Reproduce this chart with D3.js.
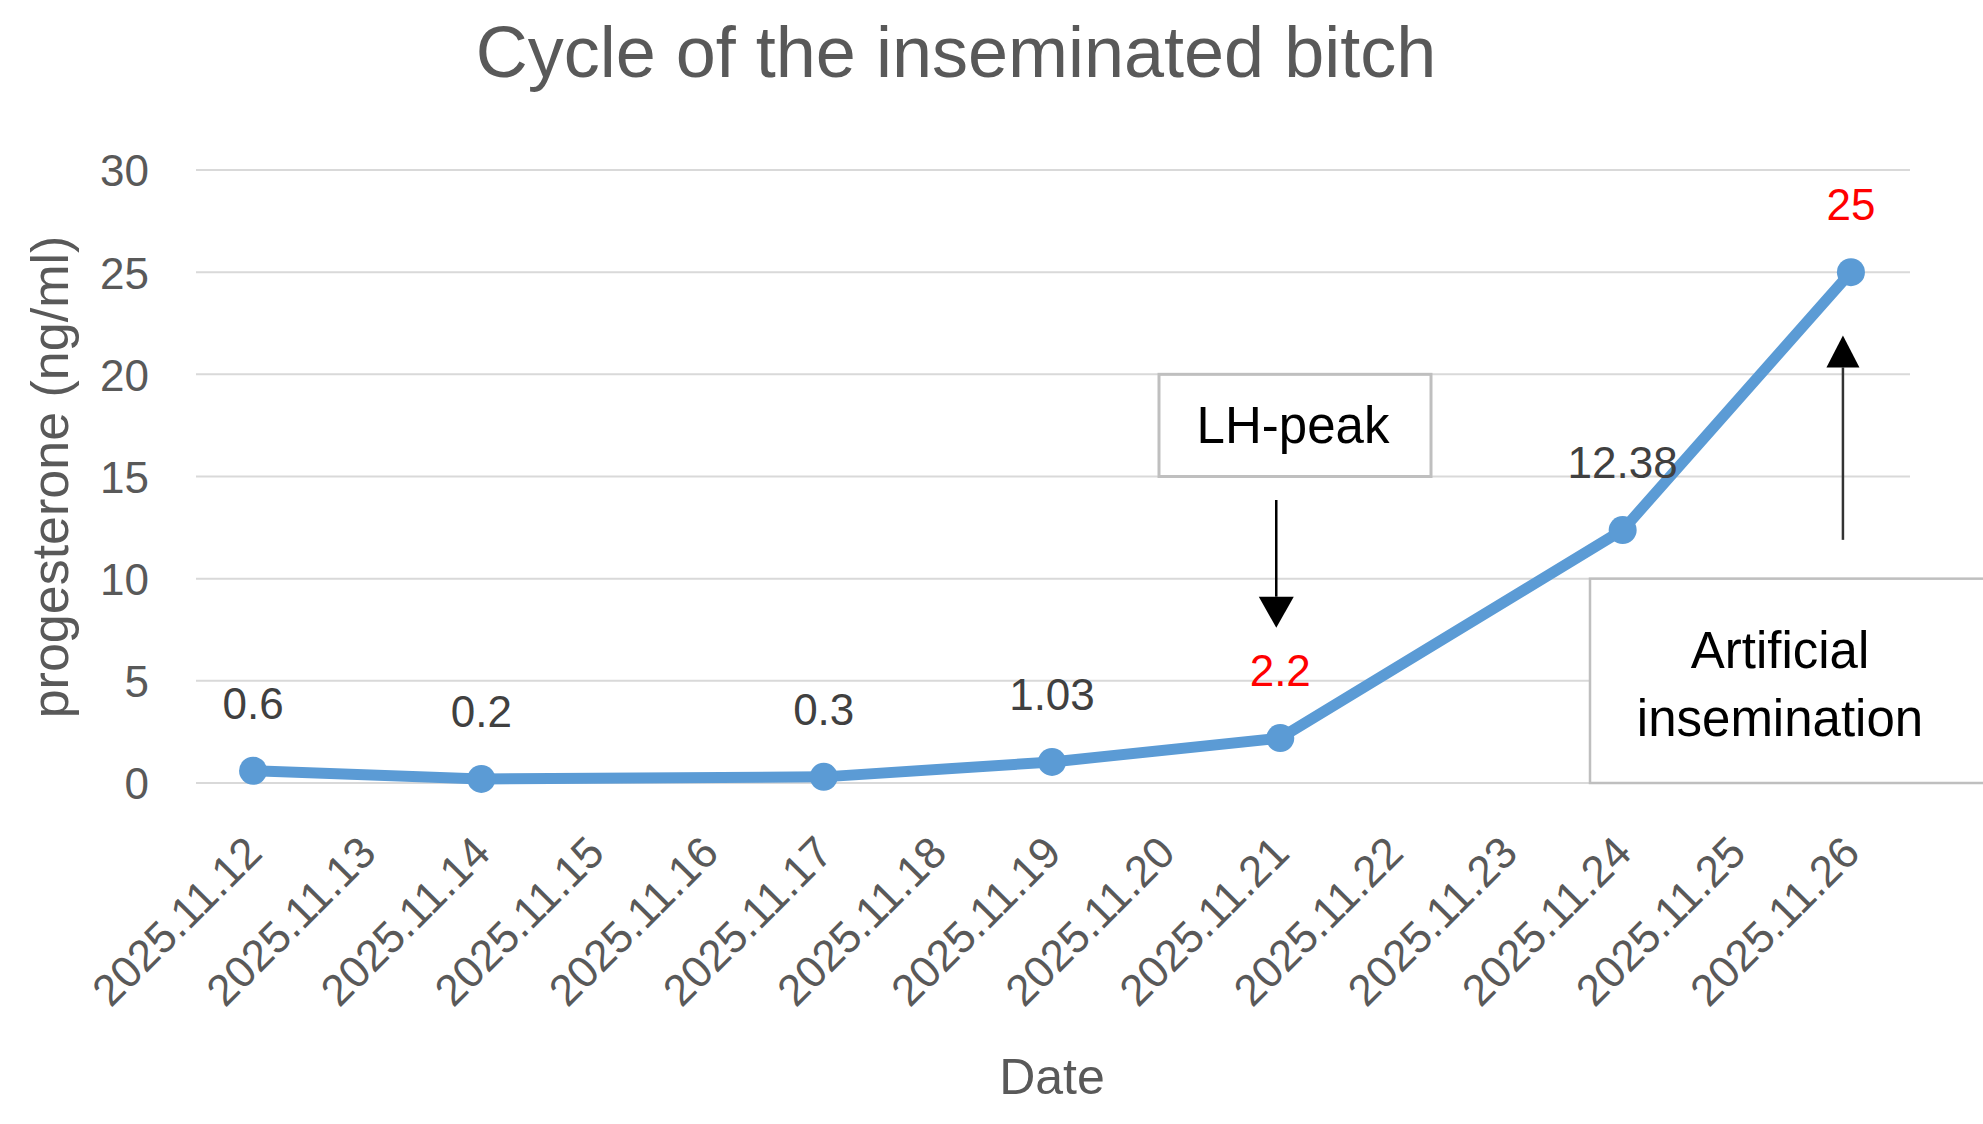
<!DOCTYPE html>
<html>
<head>
<meta charset="utf-8">
<script src="https://cdn.jsdelivr.net/npm/d3@7"></script>
<style>
  body { margin: 0; background: #fff; }
  text { font-family: "Liberation Sans", Arial, sans-serif; }
</style>
</head>
<body>
<div class="chart"></div>
<script>
// Data
var dates = ["2025.11.12", "2025.11.13", "2025.11.14", "2025.11.15", "2025.11.16",
             "2025.11.17", "2025.11.18", "2025.11.19", "2025.11.20", "2025.11.21",
             "2025.11.22", "2025.11.23", "2025.11.24", "2025.11.25", "2025.11.26"];
var measuredDates = ["2025.11.12", "2025.11.14", "2025.11.17", "2025.11.19",
                     "2025.11.21", "2025.11.24", "2025.11.26"];
var progesterone = [0.6, 0.2, 0.3, 1.03, 2.2, 12.38, 25];
var redLabels = ["2025.11.21", "2025.11.26"];
var yTicks = [0, 5, 10, 15, 20, 25, 30];

var svgWidth = 1983;
var svgHeight = 1124;

var svg = d3.select(".chart")
    .append("svg")
    .attr("width", svgWidth)
    .attr("height", svgHeight);

var points = measuredDates.map(function(d, i) {
    return { date: d, value: progesterone[i] };
});

// Scales
var xScale = d3.scaleBand()
    .domain(dates)
    .range([196, 1908]);
var xPos = function(d) { return xScale(d) + xScale.bandwidth() / 2; };

var yScale = d3.scaleLinear()
    .domain([0, 30])
    .range([783, 170]);

// Gridlines
svg.append("g")
    .selectAll("line")
    .data(yTicks)
    .enter()
    .append("line")
    .attr("x1", 196)
    .attr("x2", 1910)
    .attr("y1", d => yScale(d))
    .attr("y2", d => yScale(d))
    .attr("stroke", "#d9d9d9")
    .attr("stroke-width", 2);

// Y axis (labels only)
var leftAxis = d3.axisLeft(yScale).tickValues(yTicks).tickSize(0).tickPadding(0);
var yAxis = svg.append("g")
    .attr("transform", "translate(149, 0)")
    .call(leftAxis);
yAxis.select(".domain").remove();
yAxis.selectAll("text")
    .attr("fill", "#595959")
    .attr("font-size", 44)
    .attr("dy", "0.36em")
    .style("font-family", "'Liberation Sans', Arial, sans-serif");

// X axis labels (rotated)
var bottomAxis = d3.axisBottom(xScale).tickSize(0).tickPadding(0);
var xAxis = svg.append("g")
    .attr("transform", "translate(0, 844)")
    .call(bottomAxis);
xAxis.select(".domain").remove();
xAxis.selectAll("text")
    .attr("fill", "#595959")
    .attr("font-size", 44)
    .attr("text-anchor", "end")
    .attr("x", 0)
    .attr("y", 0)
    .attr("dy", "0.36em")
    .attr("transform", "rotate(-45)")
    .style("font-family", "'Liberation Sans', Arial, sans-serif");

// Annotation boxes
var aiBox = svg.append("g");
aiBox.append("rect")
    .attr("x", 1590)
    .attr("y", yScale(10))
    .attr("width", 420)
    .attr("height", yScale(0) - yScale(10))
    .attr("fill", "#fff")
    .attr("stroke", "#bfbfbf")
    .attr("stroke-width", 2.5);
aiBox.append("text")
    .attr("x", 1780)
    .attr("y", 668)
    .attr("text-anchor", "middle")
    .attr("font-size", 51)
    .attr("fill", "#000")
    .text("Artificial");
aiBox.append("text")
    .attr("x", 1780)
    .attr("y", 736)
    .attr("text-anchor", "middle")
    .attr("font-size", 51)
    .attr("fill", "#000")
    .text("insemination");

var lhBox = svg.append("g");
lhBox.append("rect")
    .attr("x", 1159)
    .attr("y", yScale(20))
    .attr("width", 272)
    .attr("height", yScale(15) - yScale(20))
    .attr("fill", "#fff")
    .attr("stroke", "#bfbfbf")
    .attr("stroke-width", 3);
lhBox.append("text")
    .attr("x", 1293)
    .attr("y", 443)
    .attr("text-anchor", "middle")
    .attr("font-size", 51)
    .attr("fill", "#000")
    .text("LH-peak");

// Arrows
function drawArrow(x, yFrom, yTo, color, headW, headH) {
    var dir = yTo > yFrom ? 1 : -1;
    svg.append("line")
        .attr("x1", x).attr("x2", x)
        .attr("y1", yFrom).attr("y2", yTo - dir * headH)
        .attr("stroke", color)
        .attr("stroke-width", 2.5);
    svg.append("path")
        .attr("d", "M" + (x - headW / 2) + "," + (yTo - dir * headH) +
                   "L" + (x + headW / 2) + "," + (yTo - dir * headH) +
                   "L" + x + "," + yTo + "Z")
        .attr("fill", "#000");
}
drawArrow(xPos("2025.11.21") - 4, yScale(13.85), yScale(7.6), "#000", 35, 31);
drawArrow(xPos("2025.11.26") - 8, yScale(11.9), yScale(21.9), "#333", 33, 32);

// Line + markers
var line = d3.line()
    .x(d => xPos(d.date))
    .y(d => yScale(d.value));

svg.append("path")
    .datum(points)
    .attr("d", line)
    .attr("fill", "none")
    .attr("stroke", "#5b9bd5")
    .attr("stroke-width", 11)
    .attr("stroke-linejoin", "round");

svg.append("g")
    .selectAll("circle")
    .data(points)
    .enter()
    .append("circle")
    .attr("cx", d => xPos(d.date))
    .attr("cy", d => yScale(d.value))
    .attr("r", 14)
    .attr("fill", "#5b9bd5");

// Data labels
svg.append("g")
    .selectAll("text")
    .data(points)
    .enter()
    .append("text")
    .attr("x", d => xPos(d.date))
    .attr("y", d => yScale(d.value) - 52)
    .attr("text-anchor", "middle")
    .attr("font-size", 44)
    .attr("fill", d => redLabels.indexOf(d.date) >= 0 ? "#ff0000" : "#404040")
    .text(d => String(d.value));

// Titles
svg.append("text")
    .attr("x", 956)
    .attr("y", 77)
    .attr("text-anchor", "middle")
    .attr("font-size", 72)
    .attr("fill", "#595959")
    .text("Cycle of the inseminated bitch");

svg.append("text")
    .attr("transform", "translate(68, 477) rotate(-90)")
    .attr("text-anchor", "middle")
    .attr("font-size", 52)
    .attr("fill", "#595959")
    .text("progesterone (ng/ml)");

svg.append("text")
    .attr("x", 1052)
    .attr("y", 1094)
    .attr("text-anchor", "middle")
    .attr("font-size", 50)
    .attr("fill", "#595959")
    .text("Date");
</script>
</body>
</html>
